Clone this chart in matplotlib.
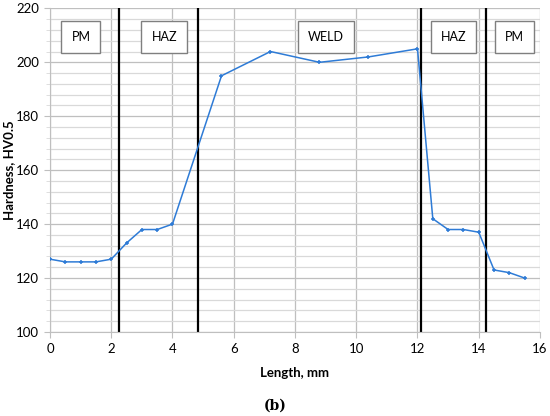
import matplotlib
matplotlib.use("Agg")
import matplotlib.pyplot as plt
from matplotlib.ticker import MultipleLocator

# Datos del perfil de dureza
longitud = [0, 0.5, 1, 1.5, 2, 2.5, 3, 3.5, 4, 5.6, 7.2, 8.8, 10.4, 12,
            12.5, 13, 13.5, 14, 14.5, 15, 15.5]
dureza = [127, 126, 126, 126, 127, 133, 138, 138, 140, 195, 204, 200, 202, 205,
          142, 138, 138, 137, 123, 122, 120]

# Limites entre zonas
limites = [2.25, 4.82, 12.12, 14.25]

# Etiquetas de zona
zonas = ["PM", "HAZ", "WELD", "HAZ", "PM"]
zonas_x = [1.01, 3.73, 9.02, 13.17, 15.16]
zonas_y = 209.4

plt.rcParams["font.family"] = ["Lato", "DejaVu Sans"]

fig = plt.figure(figsize=(5.5, 4.16), dpi=100)
ax = fig.add_axes([0.0909, 0.2019, 0.8909, 0.778])

ax.set_xlim(0, 16)
ax.set_ylim(100, 220)
ax.xaxis.set_major_locator(MultipleLocator(2))
ax.yaxis.set_major_locator(MultipleLocator(20))
ax.yaxis.set_minor_locator(MultipleLocator(4))

ax.grid(True, which="major", color="#bfbfbf", linewidth=0.9)
ax.grid(True, which="minor", axis="y", color="#d9d9d9", linewidth=0.9)
ax.set_axisbelow(True)

for lado in ["top", "right"]:
    ax.spines[lado].set_visible(False)
ax.spines["left"].set_color("#bfbfbf")
ax.spines["bottom"].set_color("#bfbfbf")
ax.tick_params(which="major", length=4, color="#bfbfbf", labelsize=9.5, pad=4)
ax.tick_params(which="minor", axis="y", length=3, color="#d9d9d9")

ax.plot(longitud, dureza, color="#2E7BD6", linewidth=1.1, marker="+",
        markersize=3.5, markeredgewidth=1.1, zorder=3)

for xl in limites:
    ax.axvline(xl, color="black", linewidth=1.6, zorder=2)

for nombre, xz in zip(zonas, zonas_x):
    ax.text(xz, zonas_y, nombre, ha="center", va="center", fontsize=9,
            bbox=dict(boxstyle="square,pad=0.8", facecolor="white",
                      edgecolor="#7f7f7f", linewidth=1.0), zorder=4)

ax.set_xlabel("Length, mm", fontsize=9.5, fontweight="bold")
ax.set_ylabel("Hardness, HV0.5", fontsize=9.5, fontweight="bold")
ax.yaxis.set_label_coords(-0.072, 0.5)
ax.xaxis.set_label_coords(0.5, -0.108)

fig.text(0.5, 0.025, "(b)", ha="center", va="center", fontsize=10,
         fontweight="bold", family="DejaVu Serif")

fig.savefig("out.png", dpi=100)
